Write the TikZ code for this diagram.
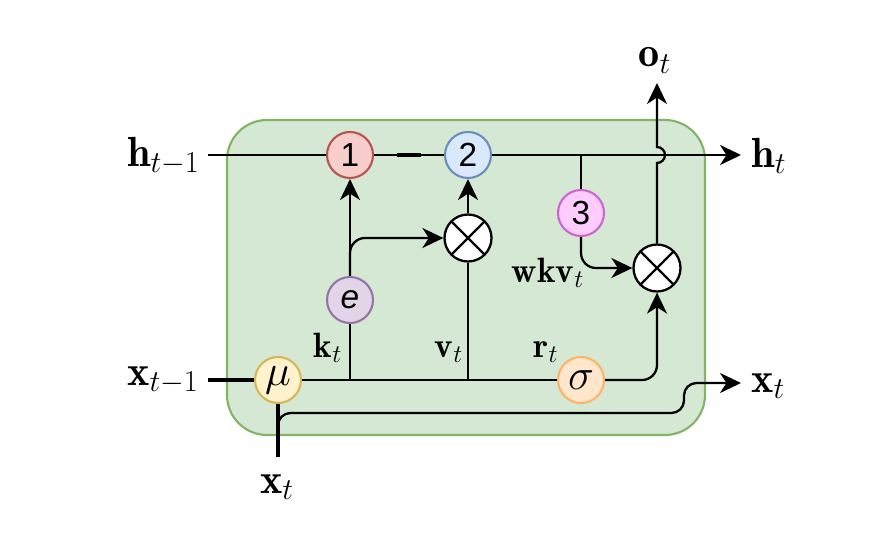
\documentclass[tikz,border=0pt]{standalone}
\usepackage{fontspec}
\setsansfont{Liberation Sans}
\usepackage{amsmath}
\usetikzlibrary{arrows.meta}
\definecolor{boxfill}{HTML}{D5E8D4}
\definecolor{boxline}{HTML}{82B366}
\definecolor{redfill}{HTML}{F8CECC}
\definecolor{redline}{HTML}{B85450}
\definecolor{bluefill}{HTML}{DAE8FC}
\definecolor{blueline}{HTML}{6C8EBF}
\definecolor{pinkfill}{HTML}{FFCCFF}
\definecolor{pinkline}{HTML}{CC66CC}
\definecolor{purplefill}{HTML}{E1D5E7}
\definecolor{purpleline}{HTML}{9673A6}
\definecolor{yellowfill}{HTML}{FFF2CC}
\definecolor{yellowline}{HTML}{D6B656}
\definecolor{orangefill}{HTML}{FFE6CC}
\definecolor{orangeline}{HTML}{FFB366}
\tikzstyle{gate} = [circle, draw, line width=1.2pt, minimum size=0.92cm, inner sep=0pt, font=\sffamily\fontsize{19}{22}\selectfont]
\tikzstyle{mix} = [gate, font=\fontsize{23}{26}\selectfont]
\tikzstyle{mult} = [circle, draw=black, fill=white, line width=1.3pt, minimum size=0.94cm, inner sep=0pt,
    path picture={\draw[line width=1.3pt] (path picture bounding box.south west) -- (path picture bounding box.north east)
    (path picture bounding box.north west) -- (path picture bounding box.south east);}]
\tikzstyle{cellbox} = [draw=boxline, fill=boxfill, line width=1.2pt, rounded corners=0.8cm]
\tikzstyle{outlbl} = [inner sep=0pt, font=\fontsize{24}{28}\selectfont]
\tikzstyle{inlbl} = [inner sep=0pt, font=\fontsize{20}{24}\selectfont]
\tikzstyle{wire} = [line width=1.3pt]
\tikzstyle{thickwire} = [line width=2.2pt]
\tikzstyle{arr} = [wire, -{Stealth[length=4.2mm, width=4mm, inset=1.3mm]}]

\begin{document}
\begin{tikzpicture}[x=0.02cm, y=-0.02cm]

        \useasboundingbox (0,0) rectangle (891,537);
        \draw[cellbox] (227,120) rectangle (705,435);

        \node (c1) [gate, fill=redfill, draw=redline] at (350,155) {1};
        \node (c2) [gate, fill=bluefill, draw=blueline] at (468,155) {2};
        \node (c3) [gate, fill=pinkfill, draw=pinkline] at (581,213) {3};
        \node (e) [gate, fill=purplefill, draw=purpleline] at (350,300) {\textit{e}};
        \node (mu) [mix, fill=yellowfill, draw=yellowline] at (278,380) {$\mu$};
        \node (sig) [mix, fill=orangefill, draw=orangeline] at (581,380) {$\sigma$};
        \node (m1) [mult] at (468,238) {};
        \node (m2) [mult] at (657,268) {};

        \node (hprev) [outlbl, anchor=base east] at (200,166) {$\mathbf{h}_{t-1}$};
        \node (hnext) [outlbl, anchor=base west] at (751,167) {$\mathbf{h}_{t}$};
        \node (xprev) [outlbl, anchor=base east] at (199,385) {$\mathbf{x}_{t-1}$};
        \node (xnext) [outlbl, anchor=base west] at (751,392) {$\mathbf{x}_{t}$};
        \node (xlow) [outlbl, anchor=base] at (277,493) {$\mathbf{x}_{t}$};
        \node (olbl) [outlbl, anchor=base] at (655,67) {$\mathbf{o}_{t}$};
        \node (klbl) [inlbl, anchor=base] at (328,357) {$\mathbf{k}_{t}$};
        \node (vlbl) [inlbl, anchor=base] at (449,357) {$\mathbf{v}_{t}$};
        \node (rlbl) [inlbl, anchor=base] at (546,357) {$\mathbf{r}_{t}$};
        \node (wlbl) [inlbl, anchor=base] at (548,282) {$\mathbf{wkv}_{t}$};

        \coordinate (hin) at (208,155);
        \coordinate (hout) at (741,155);
        \coordinate (tap) at (581,155);
        \coordinate (kt) at (350,380);
        \coordinate (vt) at (468,380);
        \coordinate (xin) at (208,380);
        \coordinate (xbot) at (278,457);
        \coordinate (split) at (278,440);
        \coordinate (bend) at (684,413);
        \coordinate (xout) at (741,383);
        \coordinate (jump) at (657,163);
        \coordinate (ot) at (657,83);

        \draw[wire] (hin) -- (c1);
        \draw[wire] (c1) -- (c2);
        \draw[line width=2.4pt] (397,155) -- (421,155);
        \draw[arr] (c2) -- (hout);
        \draw[wire] (tap) -- (c3);
        \draw[arr, rounded corners=0.3cm] (c3) |- (m2);
        \draw[arr] (e) -- (c1);
        \draw[arr, rounded corners=0.3cm] (e.north) |- (m1);
        \draw[arr] (m1) -- (c2);
        \draw[arr] (m2) -- (jump) arc[start angle=90, end angle=-90, radius=8] -- (ot);

        \draw[thickwire] (xin) -- (mu);
        \draw[wire] (mu) -- (sig);
        \draw[wire] (kt) -- (e);
        \draw[wire] (vt) -- (m1);
        \draw[arr, rounded corners=0.3cm] (sig) -| (m2);
        \draw[thickwire] (xbot) -- (mu);
        \draw[arr, rounded corners=0.25cm] (split) |- (bend) |- (xout);

    \end{tikzpicture}
\end{document}
